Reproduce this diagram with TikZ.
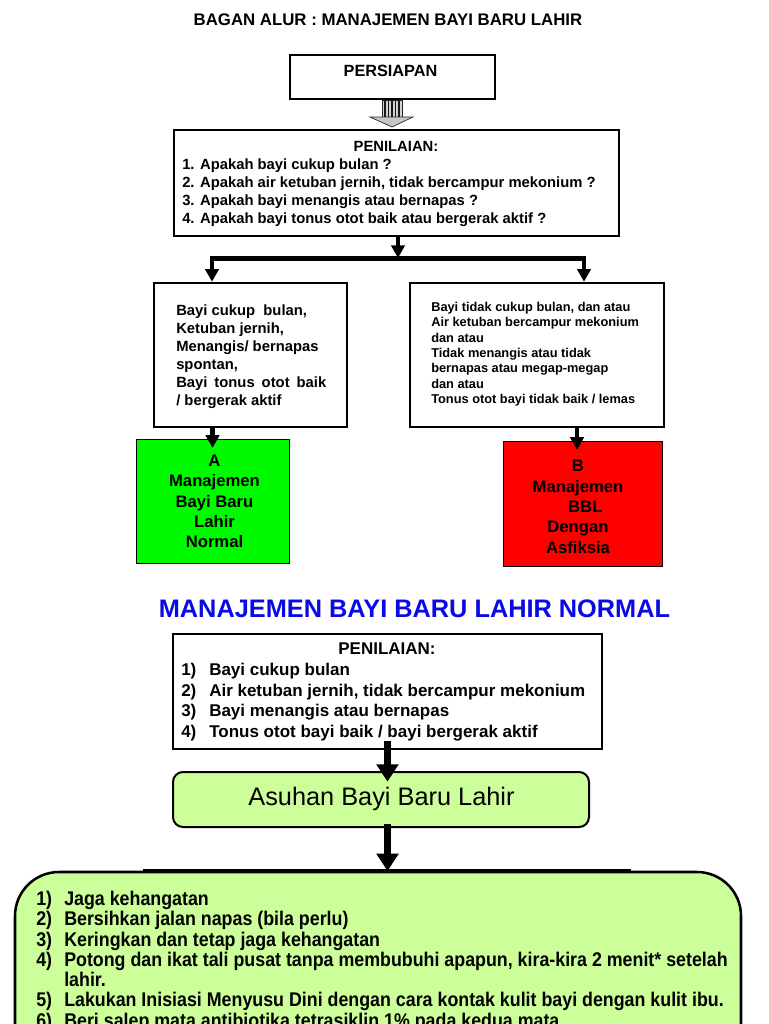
\documentclass[tikz,border=0pt]{standalone}
\usepackage{fontspec}
\setmainfont{Liberation Sans}
\newfontfamily\narrowfont[FakeStretch=0.9]{Liberation Sans}
\usetikzlibrary{arrows.meta,fit,calc}
\definecolor{lgreen}{RGB}{204,255,153}
\definecolor{bgreen}{RGB}{0,250,0}
\definecolor{bred}{RGB}{255,0,0}
\definecolor{hblue}{RGB}{10,10,230}
\begin{document}
\begin{tikzpicture}[x=0.75pt,y=-0.75pt,
  box/.style={draw, line width=1.9pt, inner sep=0pt},
  cbox/.style={draw, line width=0.7pt, inner sep=0pt},
  arr/.style={line width=3.6pt, -{Triangle[width=10pt,length=9.5pt]}},
  bigarr/.style={line width=5pt, -{Triangle[width=16pt,length=13pt]}},
  txt/.style={inner sep=0pt}
]
\useasboundingbox (0,0) rectangle (768,1024);
\clip (0,0) rectangle (768,1024);
\fill[white] (0,0) rectangle (768,1024);

% title
\node[txt, anchor=north, font=\fontsize{12.6}{15}\selectfont\bfseries] (title) at (388,14) {BAGAN ALUR : MANAJEMEN BAYI BARU LAHIR};

% boxes
\node[box, fit={(290,55)(495,99)}] (persiapan) {};
\node[box, line width=2.1pt, fit={(174,130)(619,236)}] (pen1) {};
\node[box, fit={(154,283)(347,427)}] (left) {};
\node[box, fit={(410,283)(664,427)}] (right) {};
\node[cbox, fill=bgreen, fit={(136,439)(289,563)}] (green) {};
\node[cbox, fill=bred, fit={(503,441)(662,566)}] (red) {};
\node[box, line width=2.1pt, fit={(173,634)(602,749)}] (pen2) {};
\node[box, line width=1.5pt, fill=lgreen, rounded corners=7.5pt, fit={(173,772)(589,827)}] (asuhan) {};
\node[box, fill=lgreen, rounded corners=33pt, fit={(15,872)(741,1130)}] (big) {};

% fat striped arrow
\fill[gray!35] (382,100) rectangle (402,117);
\foreach \xx in {385,388.5,392,395.5,399}{\draw[gray!20!black, line width=0.9pt] (\xx,100) -- (\xx,117);}
\draw[gray!30!black, line width=0.5pt] (382,100) rectangle (402,117);
\filldraw[fill=gray!45, draw=gray!30!black, line width=0.5pt] (370,117) -- (413,117) -- (392,127) -- cycle;

% texts
\node[txt, anchor=north, font=\fontsize{12.2}{14}\selectfont\bfseries] (tpers) at (390.5,65) {PERSIAPAN};
\node[txt, anchor=north, font=\fontsize{11.1}{13.35}\selectfont\bfseries] (tpen1h) at (396,141) {PENILAIAN:};
\node[txt, anchor=north west, align=left, font=\fontsize{11.1}{13.35}\selectfont\bfseries] (tpen1) at (182,159) {1. Apakah bayi cukup bulan ?\\2. Apakah air ketuban jernih, tidak bercampur mekonium ?\\3. Apakah bayi menangis atau bernapas ?\\4. Apakah bayi tonus otot baik atau bergerak aktif ?};
\node[txt, anchor=north west, align=left, font=\fontsize{11.1}{13.5}\selectfont\bfseries] (tleft) at (176,305) {Bayi cukup\ \ bulan,\\Ketuban jernih,\\Menangis/ bernapas\\spontan,\\\makebox[112.5pt][s]{Bayi tonus otot baik}\\/ bergerak aktif};
\node[txt, anchor=north west, align=left, font=\fontsize{9.6}{11.5}\selectfont\bfseries] (tright) at (431,302) {Bayi tidak cukup bulan, dan atau\\Air ketuban bercampur mekonium\\dan atau\\Tidak menangis atau tidak\\bernapas atau megap-megap\\dan atau\\Tonus otot bayi tidak baik / lemas};
\node[txt, anchor=north, align=center, font=\fontsize{12.5}{15.15}\selectfont\bfseries] (tgreen) at (214.5,455) {A\\Manajemen\\Bayi Baru\\Lahir\\Normal};
\node[txt, anchor=north, align=center, font=\fontsize{12.5}{15.3}\selectfont\bfseries] (tred) at (578,460) {B\\Manajemen\\\hspace*{11pt}BBL\\Dengan\\Asfiksia};
\node[txt, anchor=north, text=hblue, font=\fontsize{19}{22}\selectfont\bfseries] (heading) at (414.5,600) {MANAJEMEN BAYI BARU LAHIR NORMAL};
\node[txt, anchor=north, font=\fontsize{12.75}{15.5}\selectfont\bfseries] (tpen2h) at (387,643) {PENILAIAN:};
\node[txt, anchor=north west, align=left, font=\fontsize{12.75}{15.5}\selectfont\bfseries] (tpen2) at (181,663) {\makebox[21pt][l]{1)}Bayi cukup bulan\\\makebox[21pt][l]{2)}Air ketuban jernih, tidak bercampur mekonium\\\makebox[21pt][l]{3)}Bayi menangis atau bernapas\\\makebox[21pt][l]{4)}Tonus otot bayi baik / bayi bergerak aktif};
\node[txt, anchor=north, font=\fontsize{19}{22}\selectfont] (tasuhan) at (381.5,787) {Asuhan Bayi Baru Lahir};
\node[txt, anchor=north west, align=left, font=\narrowfont\fontsize{14.85}{15.2}\selectfont\bfseries] (tbig) at (36,891) {\makebox[21pt][l]{1)}Jaga kehangatan\\\makebox[21pt][l]{2)}Bersihkan jalan napas (bila perlu)\\\makebox[21pt][l]{3)}Keringkan dan tetap jaga kehangatan\\\makebox[21pt][l]{4)}Potong dan ikat tali pusat tanpa membubuhi apapun, kira-kira 2 menit* setelah\\\hspace*{21pt}lahir.\\\makebox[21pt][l]{5)}Lakukan Inisiasi Menyusu Dini dengan cara kontak kulit bayi dengan kulit ibu.\\\makebox[21pt][l]{6)}Beri salep mata antibiotika tetrasiklin 1\% pada kedua mata.};

% connectors
\coordinate (j0) at (398,258);
\coordinate (jl) at (212,258);
\coordinate (jr) at (584,258);
\draw[arr] (pen1.south -| j0) -- (j0);
\draw[line width=3.75pt] ([xshift=-1.8pt]jl) -- ([xshift=1.8pt]jr);
\draw[arr] (jl) -- (jl |- left.north);
\draw[arr] (jr) -- (jr |- right.north);
\draw[arr, shorten >=-7pt] (green.north |- left.south) -- (green.north);
\coordinate (rx) at (577,441);
\draw[arr, shorten >=-7pt] (rx |- right.south) -- (rx |- red.north);
\draw[bigarr, shorten >=-8pt] ([yshift=7pt]pen2.south) -- (pen2.south |- asuhan.north);
\coordinate (a2) at (pen2.south |- asuhan.south);
\coordinate (hl) at (143,871);
\coordinate (hr) at (631,871);
\draw[bigarr] ([yshift=3pt]a2) -- (a2 |- hl);
\draw[line width=3pt] (hl) -- (hr);
\end{tikzpicture}
\end{document}
